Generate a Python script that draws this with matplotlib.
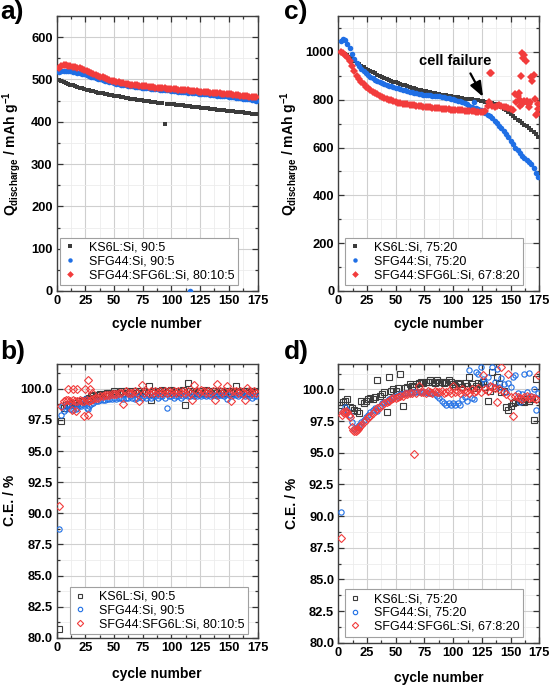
import numpy as np
import matplotlib
matplotlib.use("Agg")
import matplotlib.pyplot as plt
from matplotlib.ticker import MultipleLocator

plt.rcParams['font.family'] = ['Liberation Sans', 'DejaVu Sans']
plt.rcParams['mathtext.fontset'] = 'custom'
plt.rcParams['mathtext.rm'] = 'Liberation Sans:bold'
plt.rcParams['mathtext.it'] = 'Liberation Sans:bold'
plt.rcParams['mathtext.bf'] = 'Liberation Sans:bold'
plt.rcParams['mathtext.default'] = 'regular'

# ---------------- data (values at cycles 2, 4, 6, ...) ----------------
qa_ks6l = [498, 496, 494, 492, 490, 488, 486, 484, 482, 481, 479, 477, 476, 474, 473, 472, 471, 469, 468, 467,
           466, 465, 464, 463, 462, 461, 460, 459, 458, 457, 456, 455, 454, 453.5, 452.5, 451.5, 450.5, 450, 449, 448.5,
           447.5, 447, 446, 445.5, 445, 444.5, 395, 443, 442.5, 442, 441, 440.5, 440, 439, 438.5, 438, 437, 436.5,
           436, 435, 434.5, 434, 433.5, 433, 432, 431.5, 431, 430, 429.5, 429, 428.5, 428, 427, 426.5, 426, 425.5,
           425, 424, 423.5, 423, 422, 421.5, 421, 420, 419.5, 419, 418]
qa_sfg44 = [517, 520, 521, 520, 519, 519, 518, 517, 516, 515, 513, 512, 510, 508, 507, 505, 503, 502, 500, 499,
            497, 496, 494, 493, 492, 490, 489, 488, 487, 486, 485, 484, 483.5, 483, 482, 481.5, 481, 480.5, 480, 479,
            478.5, 478, 477.5, 477, 476, 475.5, 475, 474.5, 474, 473, 472.5, 472, 471.5, 471, 470, 469.5, 469, 0,
            468, 467.5, 467, 466.5, 466, 465.5, 465, 464.5, 464, 463.5, 463, 462, 461.5, 461, 460.5, 460, 459, 458.5,
            458, 457, 456.5, 456, 455, 454.5, 454, 453, 452, 451, 450]
qa_mix = [527, 533, 535, 534, 533, 531, 530, 529, 527, 526, 524, 522, 520, 518, 516, 513, 511, 509, 507, 505,
          503, 501, 499, 497, 496, 494, 493, 492, 491, 490, 489, 488, 487, 486.5, 486, 485, 485, 484, 483.5, 483,
          482, 481.5, 481, 480.5, 480, 479.5, 479, 478.5, 478, 477.5, 477, 476.5, 476, 475.5, 475, 474.5, 474, 473.5,
          473, 472.5, 472, 471.5, 471, 470.5, 470, 469.5, 469, 468.5, 468, 467.5, 467, 466.5, 466, 465.5, 465, 464.5,
          464, 463, 462.5, 462, 461.5, 461, 460, 459.5, 459, 458.5, 458]

qc_ks6l = [1000, 995, 990, 985, 978, 970, 962, 955, 948, 942, 936, 930, 925, 920, 915, 910, 905, 900, 896, 892,
           888, 884, 880, 876, 872, 869, 866, 863, 860, 857, 854, 851, 848, 845, 842, 840, 837, 835, 833, 831,
           829, 827, 825, 823, 821, 819, 818, 816, 815, 813, 811, 810, 808, 807, 805, 804, 802, 801, 800, 798,
           797, 795, 793, 791, 789, 787, 785, 783, 780, 776, 770, 763, 755, 747, 739, 731, 724, 717, 710, 703,
           696, 689, 682, 674, 665, 655, 645]
qc_sfg44 = [1045, 1052, 1048, 1035, 1015, 990, 970, 955, 942, 930, 920, 910, 903, 896, 890, 884, 879, 874, 870, 866,
            862, 859, 856, 853, 850, 847, 845, 842, 840, 837, 834, 831, 828, 826, 824, 822, 821, 820, 819, 818,
            817, 816, 815, 814, 812, 810, 808, 806, 804, 802, 799, 796, 793, 790, 786, 780, 775, 770, 790, 765,
            762, 758, 752, 745, 738, 730, 722, 713, 703, 692, 680, 668, 655, 642, 628, 614, 600, 588, 576, 566,
            556, 547, 540, 532, 515, 495, 475]
qc_mix = [1000, 995, 988, 978, 962, 940, 918, 900, 886, 874, 864, 855, 847, 840, 834, 828, 822, 817, 812, 808,
          804, 800, 797, 794, 791, 788, 786, 784, 782, 780, 778, 777, 776, 775, 774, 772, 771, 770, 769, 768,
          767, 766, 765, 764, 763, 762, 761, 760, 759, 758, 757, 756, 755, 755, 754, 753, 753, 752, 751, 750,
          750, 749, 748, 752, 775, 912, 772, 770, 775, 778, 772, 770, 768, 765, 762, 758, 825, 815, 800, 995,
          985, 790, 780, 895, 905, 735, 760]
qc_mix_extra_cyc = [131, 133, 157, 159, 161, 163, 165, 166, 167, 169, 171, 173, 174, 160, 162, 155, 158, 164]
qc_mix_extra_val = [790, 910, 830, 900, 975, 960, 785, 770, 790, 880, 805, 740, 780, 780, 795, 790, 775, 795]

ce_b_ks6l = [80.7, 97.4, 98.5, 98.7, 98.8, 98.8, 98.9, 98.9, 98.9, 99.0, 99.0, 99.1, 99.2, 99.3, 99.4, 99.5, 99.5,
             99.5, 99.6, 99.6, 99.6, 99.7, 99.7, 99.7, 99.8, 99.7, 99.7, 99.8, 99.7, 99.8, 99.7, 99.8, 99.7, 99.8,
             99.7, 99.8, 99.7, 99.8, 99.7, 100.2, 99.1, 99.8, 99.7, 99.8, 99.7, 99.9, 99.8, 99.7, 99.8, 99.9,
             99.7, 99.8, 99.7, 99.8, 99.9, 98.7, 100.5, 99.8, 99.7, 99.8, 99.7, 99.8, 99.8, 99.7, 99.9, 99.8,
             99.7, 99.8, 99.8, 99.7, 99.8, 99.8, 99.7, 99.8, 99.8, 99.7, 99.8, 100.2, 99.8, 99.7, 99.8, 99.8,
             99.7, 99.8, 99.8, 99.7, 99.8]
ce_b_sfg44 = [88.7, 97.9, 98.2, 98.4, 98.6, 98.4, 98.3, 98.6, 98.5, 98.7, 98.8, 98.9, 98.5, 98.6, 98.8, 98.9, 99.0,
              99.0, 99.1, 99.1, 99.1, 99.2, 99.2, 99.2, 99.3, 99.2, 99.3, 99.3, 99.2, 99.3, 99.3, 99.4, 99.3, 99.2,
              99.3, 99.4, 99.3, 99.4, 99.3, 99.4, 99.3, 99.4, 99.4, 99.3, 99.4, 99.4, 99.3, 98.5, 99.4, 99.4,
              99.3, 99.4, 99.4, 99.3, 99.4, 99.5, 99.4, 99.4, 99.5, 99.4, 99.4, 99.5, 99.4, 99.5, 99.4, 99.5,
              99.4, 99.5, 99.5, 99.4, 99.5, 99.5, 99.4, 99.2, 99.5, 99.4, 99.5, 99.5, 99.4, 99.6, 99.5, 99.4,
              99.5, 99.4, 99.3, 99.4, 99.4]
ce_b_mix = [90.6, 98.6, 99.0, 99.1, 99.1, 99.0, 99.1, 99.0, 99.0, 99.1, 99.0, 99.0, 99.1, 99.0, 99.1, 99.2, 99.3,
            99.3, 99.4, 99.4, 99.5, 99.5, 99.5, 99.6, 99.6, 99.6, 99.7, 99.7, 98.8, 99.8, 99.7, 99.7, 99.7, 99.8,
            99.7, 99.0, 100.3, 99.7, 99.8, 99.7, 99.8, 99.7, 99.8, 99.7, 99.8, 99.7, 99.8, 99.7, 99.8, 99.7,
            99.8, 99.7, 99.8, 99.7, 99.8, 99.7, 99.8, 99.7, 99.1, 100.3, 99.8, 99.7, 99.9, 99.8, 99.7, 99.8,
            99.7, 99.8, 99.1, 100.4, 99.8, 99.7, 99.8, 100.2, 99.7, 99.0, 99.8, 99.8, 99.7, 99.8, 99.7, 99.1,
            100.1, 99.8, 99.7, 99.8, 99.7]
ce_b_mix_extra_cyc = [10, 14, 18, 13, 17, 25, 27, 29, 24, 27, 31]
ce_b_mix_extra_val = [100.0, 100.0, 100.0, 98.3, 98.2, 100.0, 100.7, 100.0, 97.8, 97.9, 99.65]
ce_b_sfg44_extra_cyc = [5, 9, 13, 17, 21, 25, 27]
ce_b_sfg44_extra_val = [98.6, 98.8, 98.7, 98.4, 98.6, 99.2, 98.4]

ce_d_ks6l = [98.8, 99.0, 99.1, 99.2, 98.6, 98.5, 98.4, 98.3, 98.1, 99.1, 98.9, 99.1, 99.2, 99.3, 99.2, 99.4, 100.7,
             99.5, 99.6, 99.8, 98.2, 101.0, 99.9, 100.0, 99.9, 100.1, 101.2, 98.7, 100.1, 100.2, 100.4, 100.3,
             100.2, 100.4, 100.5, 100.6, 100.5, 100.6, 100.6, 100.7, 100.6, 100.5, 100.7, 100.6, 100.6, 100.5,
             100.6, 100.7, 100.6, 100.4, 100.3, 100.5, 100.4, 100.2, 100.5, 100.3, 101.0, 100.4, 100.1, 100.3,
             100.5, 100.4, 100.6, 100.2, 99.1, 99.9, 101.4, 100.1, 101.0, 100.4, 99.8, 99.9, 98.6, 98.4, 98.7,
             98.9, 99.0, 99.1, 99.2, 99.1, 99.0, 99.2, 99.1, 99.2, 97.6, 100.8, 99.2]
ce_d_sfg44 = [90.3, 98.3, 98.6, 98.4, 98.0, 97.4, 96.9, 97.0, 97.2, 97.4, 97.6, 97.8, 98.0, 98.2, 98.4, 98.5, 98.3,
              98.7, 98.9, 99.0, 99.1, 99.2, 99.3, 99.4, 99.5, 99.5, 99.6, 99.6, 99.7, 99.7, 99.7, 99.8, 99.8,
              99.8, 99.8, 99.8, 99.8, 99.8, 99.7, 99.7, 99.7, 99.6, 99.5, 99.3, 99.1, 98.9, 98.8, 98.9, 98.8,
              98.9, 98.8, 98.9, 98.8, 99.2, 99.4, 99.1, 101.5, 99.3, 99.2, 101.4, 101.2, 101.8, 100.8, 100.5,
              101.0, 100.3, 101.8, 100.6, 101.6, 100.2, 100.9, 100.4, 99.8, 100.5, 100.2, 101.0, 101.1, 99.7,
              99.0, 99.6, 101.2, 99.8, 101.3, 99.5, 100.0, 98.4, 99.7]
ce_d_mix = [88.3, 98.2, 98.2, 98.2, 97.8, 97.0, 96.7, 96.8, 97.0, 97.2, 97.4, 97.6, 97.8, 97.9, 98.1, 98.3, 98.5,
            98.6, 98.8, 98.9, 99.0, 99.1, 99.2, 99.3, 99.3, 99.4, 99.5, 99.5, 99.6, 99.6, 99.7, 99.7, 94.9,
            99.7, 100.3, 99.8, 99.8, 99.7, 99.9, 99.8, 99.7, 99.9, 99.8, 99.8, 99.9, 99.7, 99.8, 99.9, 99.7,
            100.3, 99.8, 99.9, 99.7, 100.0, 99.8, 99.9, 99.7, 100.0, 99.8, 99.9, 100.1, 99.8, 101.1, 100.0,
            99.9, 100.3, 100.2, 100.1, 99.0, 100.0, 101.8, 99.8, 99.6, 101.2, 99.4, 97.9, 99.5, 99.4, 99.3,
            99.2, 99.4, 99.5, 99.3, 99.4, 99.3, 99.2, 101.1]
ce_d_mix_extra_cyc = [3, 5, 7, 9, 13, 15, 17, 19]
ce_d_mix_extra_val = [98.0, 98.1, 98.3, 98.0, 96.8, 96.7, 96.9, 97.1]

labels_90 = ['KS6L:Si, 90:5', 'SFG44:Si, 90:5', 'SFG44:SFG6L:Si, 80:10:5']
labels_75 = ['KS6L:Si, 75:20', 'SFG44:Si, 75:20', 'SFG44:SFG6L:Si, 67:8:20']

C_K = '#3c3c3c'
C_B = '#1f6fe5'
C_R = '#f23c3c'


def cyc(v):
    return np.arange(2, 2 * len(v) + 1, 2)


fig = plt.figure(figsize=(5.5, 6.85), dpi=100)
ax_a = fig.add_axes([0.1031, 0.5752, 0.3651, 0.4014])
ax_c = fig.add_axes([0.6151, 0.5752, 0.3655, 0.4014])
ax_b = fig.add_axes([0.1031, 0.0690, 0.3651, 0.3996])
ax_d = fig.add_axes([0.6151, 0.0617, 0.3655, 0.4069])


def style(ax, ymaj, ymin, ylim, fmt):
    ax.set_xlim(0, 175)
    ax.set_ylim(*ylim)
    ax.xaxis.set_major_locator(MultipleLocator(25))
    ax.xaxis.set_minor_locator(MultipleLocator(12.5))
    ax.yaxis.set_major_locator(MultipleLocator(ymaj))
    ax.yaxis.set_minor_locator(MultipleLocator(ymin))
    ax.yaxis.set_major_formatter(fmt)
    ax.grid(True, which='major', color='#cfcfcf', lw=0.8, zorder=0)
    ax.grid(True, which='minor', color='#ececec', lw=0.6, zorder=0)
    ax.set_axisbelow(True)
    ax.tick_params(which='both', direction='in', top=True, right=True, labelsize=9.3, width=0.9,
                   colors='#333333', labelcolor='black', pad=3)
    ax.tick_params(which='major', length=4)
    ax.tick_params(which='minor', length=2)
    for lab in ax.get_xticklabels() + ax.get_yticklabels():
        lab.set_fontweight('bold')
    for s in ax.spines.values():
        s.set_color('#404040')
        s.set_linewidth(1.0)
    ax.set_xlabel('cycle number', fontsize=10, fontweight='bold')


def legend(ax, labels, handles, x0, y0):
    lg = ax.legend(handles, labels, loc='lower left', bbox_to_anchor=(x0, y0), fontsize=9,
                   frameon=True, fancybox=False, edgecolor='#a0a0a0', framealpha=1,
                   handlelength=1.0, handletextpad=1.0, labelspacing=0.15, borderpad=0.3,
                   borderaxespad=0)
    lg.get_frame().set_linewidth(0.8)


# ---- panel a ----
ax_a.plot(cyc(qa_ks6l), qa_ks6l, 's', color=C_K, ms=3.3, mew=0, zorder=3)
ax_a.plot(cyc(qa_sfg44), qa_sfg44, 'o', color=C_B, ms=4.0, mew=0, zorder=3)
ax_a.plot(cyc(qa_mix), qa_mix, 'D', color=C_R, ms=4.2, mew=0, zorder=4)
style(ax_a, 100, 50, (0, 650), plt.FormatStrFormatter('%d'))
ax_a.set_ylabel(r'Q$_{discharge}$ / mAh g$^{-1}$', fontsize=10, fontweight='bold')
l1 = ax_a.plot([], [], 's', color=C_K, ms=2.6, mew=0)[0]
l2 = ax_a.plot([], [], 'o', color=C_B, ms=3.2, mew=0)[0]
l3 = ax_a.plot([], [], 'D', color=C_R, ms=3.4, mew=0)[0]
legend(ax_a, labels_90, [l1, l2, l3], 0.016, 0.022)

# ---- panel c ----
ax_c.plot(cyc(qc_ks6l), qc_ks6l, 's', color=C_K, ms=3.3, mew=0, zorder=3)
ax_c.plot(cyc(qc_sfg44), qc_sfg44, 'o', color=C_B, ms=4.0, mew=0, zorder=3)
ax_c.plot(cyc(qc_mix), qc_mix, 'D', color=C_R, ms=4.2, mew=0, zorder=4)
ax_c.plot(qc_mix_extra_cyc, qc_mix_extra_val, 'D', color=C_R, ms=4.2, mew=0, zorder=4)
style(ax_c, 200, 100, (0, 1150), plt.FormatStrFormatter('%d'))
ax_c.set_ylabel(r'Q$_{discharge}$ / mAh g$^{-1}$', fontsize=10, fontweight='bold')
l1 = ax_c.plot([], [], 's', color=C_K, ms=2.6, mew=0)[0]
l2 = ax_c.plot([], [], 'o', color=C_B, ms=3.2, mew=0)[0]
l3 = ax_c.plot([], [], 'D', color=C_R, ms=3.4, mew=0)[0]
legend(ax_c, labels_75, [l1, l2, l3], 0.033, 0.022)
ax_c.annotate('', xy=(126, 812), xytext=(115, 910),
              arrowprops=dict(arrowstyle='-|>,head_width=0.35,head_length=0.9', color='black', lw=1.6,
                              shrinkA=0, shrinkB=0),
              zorder=6)
ax_c.text(101.5, 961, 'cell failure', fontsize=10.5, fontweight='bold', ha='center', va='center', zorder=6)

# ---- panel b ----
mk = dict(mfc='none', ms=3.8, mew=0.8, ls='none', zorder=3)
ax_b.plot(cyc(ce_b_ks6l), ce_b_ks6l, 's', mec=C_K, **mk)
ax_b.plot(cyc(ce_b_sfg44), ce_b_sfg44, 'o', mec=C_B, **mk)
ax_b.plot(ce_b_sfg44_extra_cyc, ce_b_sfg44_extra_val, 'o', mec=C_B, **mk)
ax_b.plot(cyc(ce_b_mix), ce_b_mix, 'D', mec=C_R, **mk)
ax_b.plot(ce_b_mix_extra_cyc, ce_b_mix_extra_val, 'D', mec=C_R, **mk)
style(ax_b, 2.5, 1.25, (80, 102), plt.FormatStrFormatter('%.1f'))
ax_b.set_ylabel('C.E. / %', fontsize=10, fontweight='bold')
l1 = ax_b.plot([], [], 's', mec=C_K, mfc='none', ms=3.2, mew=0.8)[0]
l2 = ax_b.plot([], [], 'o', mec=C_B, mfc='none', ms=3.2, mew=0.8)[0]
l3 = ax_b.plot([], [], 'D', mec=C_R, mfc='none', ms=3.2, mew=0.8)[0]
legend(ax_b, labels_90, [l1, l2, l3], 0.066, 0.012)

# ---- panel d ----
ax_d.plot(cyc(ce_d_ks6l), ce_d_ks6l, 's', mec=C_K, **mk)
ax_d.plot(cyc(ce_d_sfg44), ce_d_sfg44, 'o', mec=C_B, **mk)
ax_d.plot(cyc(ce_d_mix), ce_d_mix, 'D', mec=C_R, **mk)
ax_d.plot(ce_d_mix_extra_cyc, ce_d_mix_extra_val, 'D', mec=C_R, **mk)
style(ax_d, 2.5, 1.25, (80, 102), plt.FormatStrFormatter('%.1f'))
ax_d.set_ylabel('C.E. / %', fontsize=10, fontweight='bold')
l1 = ax_d.plot([], [], 's', mec=C_K, mfc='none', ms=3.2, mew=0.8)[0]
l2 = ax_d.plot([], [], 'o', mec=C_B, mfc='none', ms=3.2, mew=0.8)[0]
l3 = ax_d.plot([], [], 'D', mec=C_R, mfc='none', ms=3.2, mew=0.8)[0]
legend(ax_d, labels_75, [l1, l2, l3], 0.033, 0.022)

# label positions
ax_a.yaxis.set_label_coords(-0.17, 0.5)
ax_c.yaxis.set_label_coords(-0.185, 0.5)
ax_b.yaxis.set_label_coords(-0.2, 0.5)
ax_d.yaxis.set_label_coords(-0.198, 0.5)
ax_a.xaxis.set_label_coords(0.5, -0.095)
ax_c.xaxis.set_label_coords(0.5, -0.095)
ax_b.xaxis.set_label_coords(0.5, -0.108)
ax_d.xaxis.set_label_coords(0.5, -0.102)

# panel letters
for txt, x, y in [('a)', 0.0, 1.0), ('c)', 0.516, 1.0), ('b)', 0.0, 0.503), ('d)', 0.516, 0.503)]:
    fig.text(x, y, txt, fontsize=19, fontweight='bold', ha='left', va='top')

fig.savefig('out.png', dpi=100)
